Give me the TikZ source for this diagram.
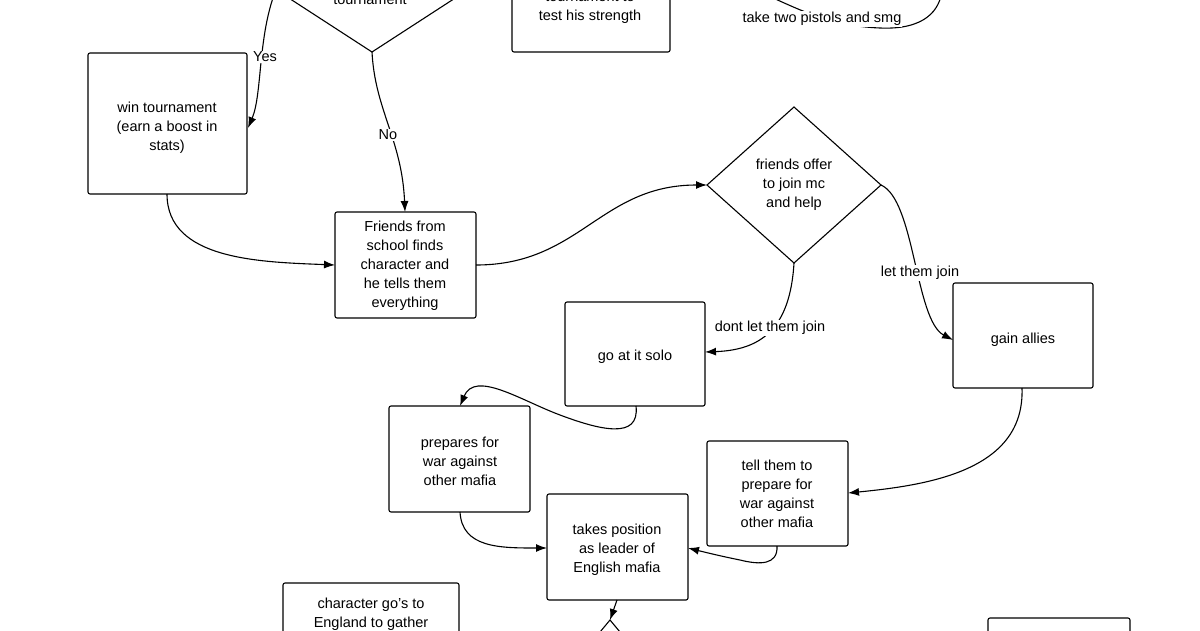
\documentclass[tikz,border=0pt]{standalone}
\usepackage{fontspec}
\setmainfont{Liberation Sans}
\usetikzlibrary{arrows.meta}
\begin{document}
\begin{tikzpicture}[x=1pt,y=-1pt,
  box/.style={draw,line width=1.1pt,rounded corners=2pt},
  txt/.style={align=center,font=\fontsize{14.5}{19}\selectfont,inner sep=0pt},
  lbl/.style={fill=white,inner sep=1pt,font=\fontsize{14.5}{16}\selectfont},
  arr/.style={line width=1.1pt,-{Latex[length=11pt,width=8pt]}},
  ln/.style={line width=1.1pt}]
\useasboundingbox (0,0) rectangle (1200,630);
\clip (0,0) rectangle (1200,630);
% top diamond
\draw[ln] (261,-20) coordinate (dL) -- (372,52) coordinate (dB) -- (483,-20) -- (372,-92) -- cycle;
\node[txt] (dT) at (370,0) {tournament};
% top middle box
\draw[box] (512,-60) rectangle (670,52);
\node[txt] (tm) at (590,8) {tournament to\\test his strength};
% top right curve
\draw[ln] (760,-8) .. controls (800,10) and (830,26) .. (880,28) .. controls (925,30) and (940,10) .. (942,-10);
\node[lbl] (pist) at (822,19) {take two pistols and smg};
% boxes
\draw[box] (88,53) rectangle (247,194);
\node[txt] (win) at (167,128) {win tournament\\(earn a boost in\\stats)};
\draw[box] (335,212) rectangle (476,318);
\node[txt] (fr) at (405,266) {Friends from\\school finds\\character and\\he tells them\\everything};
\draw[box] (565,302) rectangle (705,406);
\node[txt] (solo) at (635,357) {go at it solo};
\draw[box] (953,283) rectangle (1093,388);
\node[txt] (ga) at (1023,340) {gain allies};
\draw[box] (389,406) rectangle (530,512);
\node[txt] (prep) at (460,461) {prepares for\\war against\\other mafia};
\draw[box] (707,441) rectangle (848,546);
\node[txt] (tell) at (777,494) {tell them to\\prepare for\\war against\\other mafia};
\draw[box] (547,494) rectangle (688,600);
\node[txt] (take) at (617,550) {takes position\\as leader of\\English mafia};
\draw[box] (283,583) rectangle (459,660);
\node[txt] (eng) at (371,614) {character go's to\\England to gather};
\draw[box] (988,618) rectangle (1130,680);
% friends diamond
\draw[ln] (707,185) -- (794,107) -- (881,185) -- (794,263) -- cycle;
\node[txt] (fo) at (794,185) {friends offer\\to join mc\\and help};
% bottom diamond
\draw[ln] (560,680) -- (610,620) -- (660,680);
% connectors
\draw[arr] (274,-5) .. controls (258,40) and (262,95) .. (248,128);
\node[lbl] at (265,57) {Yes};
\draw[arr] (dB) .. controls (375,110) and (402,140) .. (405,212);
\node[lbl] at (388,135) {No};
\draw[arr] (167,194) .. controls (167,260) and (260,262) .. (335,265);
\draw[arr] (476,265) .. controls (580,265) and (600,185) .. (707,185);
\draw[arr] (881,185) .. controls (915,200) and (915,320) .. (953,340);
\node[lbl] at (920,273) {let them join};
\draw[arr] (794,263) .. controls (790,330) and (760,350) .. (705,352);
\node[lbl] at (770,328) {dont let them join};
\draw[arr] (636,406) .. controls (640,440) and (600,430) .. (560,415) .. controls (520,400) and (475,370) .. (460,406);
\draw[arr] (460,512) .. controls (462,548) and (500,548) .. (547,548);
\draw[arr] (1022,388) .. controls (1025,470) and (930,485) .. (848,493);
\draw[arr] (777,546) .. controls (778,565) and (760,565) .. (740,560) .. controls (720,556) and (700,551) .. (688,548);
\draw[arr] (617,600) -- (610,620);
\end{tikzpicture}
\end{document}
